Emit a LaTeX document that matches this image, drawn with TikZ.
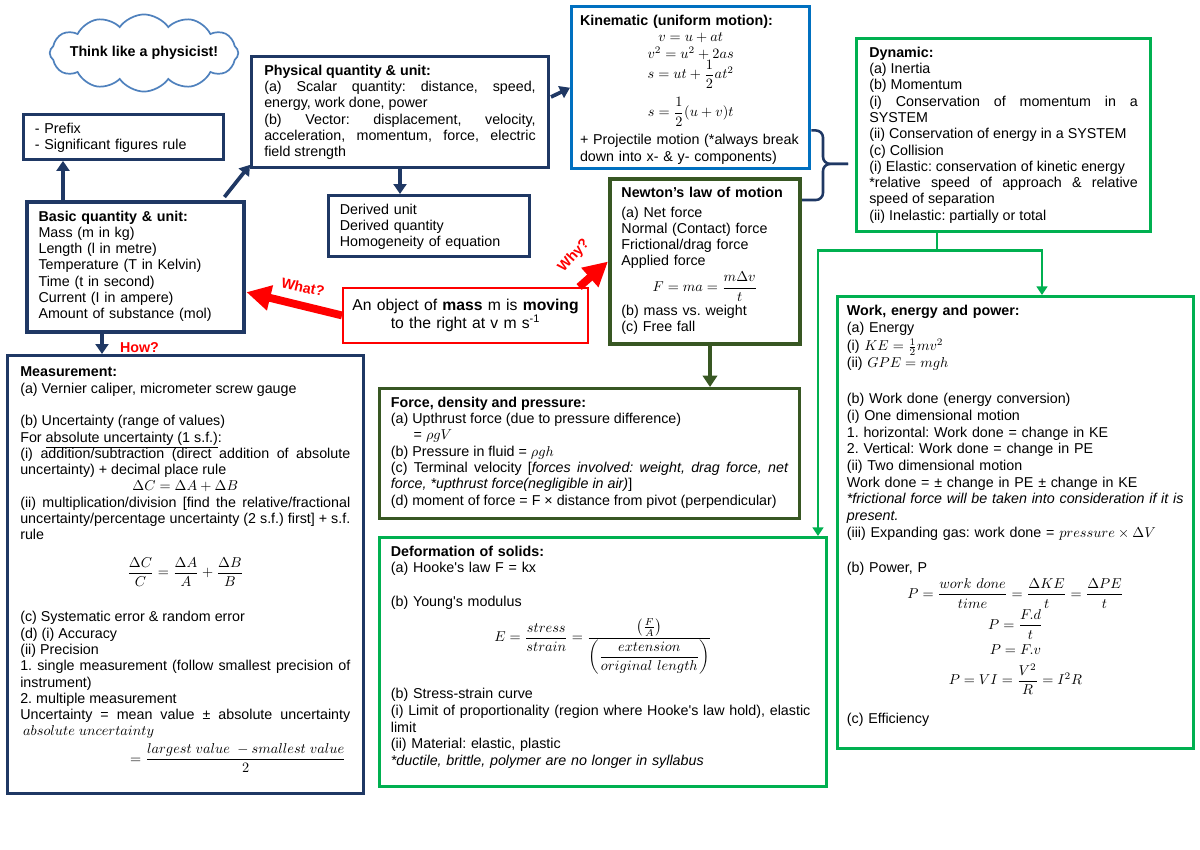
\documentclass[tikz,border=0pt]{standalone}
\usepackage{amsmath}
\usepackage{fontspec}
\setmainfont{Liberation Sans}
\usepackage{tikz}
\usetikzlibrary{arrows.meta,positioning,calc,shapes.symbols}
\definecolor{boxNavy}{HTML}{1F3864}
\definecolor{boxBlue}{HTML}{0070C0}
\definecolor{boxOlive}{HTML}{385723}
\definecolor{boxGreen}{HTML}{00B050}
\definecolor{cloudBlue}{HTML}{4F81BD}
\definecolor{alertRed}{HTML}{FF0000}
\hyphenpenalty=10000
\exhyphenpenalty=10000
\tolerance=3000
\frenchspacing
\setlength{\lineskip}{2.5pt}

\begin{document}
\begin{tikzpicture}[x=0.7pt,y=-0.7pt,>={Triangle[length=7pt,width=9pt]},
    font=\fontsize{10}{11.4}\selectfont,
    panel/.style={draw,anchor=north west,inner xsep=8pt,inner ysep=5pt,
                  text height=8.2pt,align=left},
    navyPanel/.style={panel,draw=boxNavy,line width=2pt},
    greenPanel/.style={panel,draw=boxGreen,line width=2pt},
    olivePanel/.style={panel,draw=boxOlive,line width=2pt},
    navyArrow/.style={boxNavy,line width=2.6pt,->},
    oliveArrow/.style={boxOlive,line width=2.8pt,-{Triangle[length=8pt,width=10pt]}},
    greenWire/.style={boxGreen,line width=2pt},
    greenArrow/.style={greenWire,-{Triangle[length=6pt,width=7.5pt]}},
    bigArrow/.style={alertRed,line width=5.5pt,-{Triangle[length=17pt,width=17pt]}},
    askLabel/.style={text=alertRed,font=\fontsize{10}{12}\selectfont\bfseries}]
    \useasboundingbox (0,0) rectangle (1200,849);
    \node[cloud,cloud puffs=12,cloud puff arc=110,cloud ignores aspect,draw=cloudBlue,
          line width=1.2pt,minimum width=132pt,minimum height=54pt,inner sep=0pt,
          font=\fontsize{10}{12}\selectfont\bfseries] (motto) at (144,53)
          {\makebox[0pt]{Think like a physicist!}};
    \node[navyPanel,text width=124pt,text depth=13.3pt] (prefix) at (22,113)
          {- Prefix\par - Significant figures rule};
    \node[navyPanel,line width=3pt,text width=136pt,text depth=72.8pt] (basic) at (25,200)
          {\textbf{Basic quantity \& unit:}\par Mass (m in kg)\par Length (l in metre)\par
           Temperature (T in Kelvin)\par Time (t in second)\par Current (I in ampere)\par
           Amount of substance (mol)};
    \node[navyPanel,align=justify,text width=190pt,inner xsep=9pt,text depth=59.5pt] (phys) at (250,55)
          {\textbf{Physical quantity \& unit:}\par
           (a) Scalar quantity: distance, speed, energy, work done, power\par
           (b) Vector: displacement, velocity, acceleration, momentum, force, electric
           field strength};
    \node[navyPanel,text width=125pt,text depth=24.5pt] (derived) at (327,194)
          {Derived unit\par Derived quantity\par Homogeneity of equation};
    \node[panel,draw=boxBlue,line width=2.4pt,inner xsep=5.8pt,text width=155pt,
          text depth=95.2pt] (kin) at (570,5)
          {\textbf{Kinematic (uniform motion):}\par
           \lineskiplimit=-20pt
           \centerline{$v=u+at$}
           \vspace{0.5pt}\centerline{$v^2=u^2+2as$}
           \vspace{2.6pt}\centerline{$s=ut+\dfrac{1}{2}at^2$}
           \vspace{15pt}\centerline{$s=\dfrac{1}{2}(u+v)t$}
           \vspace{4.7pt}
           + Projectile motion (*always break down into x- \& y- components)};
    \node[greenPanel,align=justify,text width=188pt,inner xsep=9pt,text depth=116.9pt] (dyn) at (855,37)
          {\textbf{Dynamic:}\par
           (a) Inertia\par
           (b) Momentum\par
           (i) Conservation of momentum in a SYSTEM\par
           (ii) Conservation of energy in a SYSTEM\par
           (c) Collision\par
           (i) Elastic: conservation of kinetic energy\par
           *relative speed of approach \& relative speed of separation\par
           (ii) Inelastic: partially or total};
    \node[olivePanel,line width=2.8pt,text width=117pt,text depth=97.3pt] (newton) at (608,177)
          {\textbf{Newton’s law of motion}\par
           \vspace{2pt}
           (a) Net force\par
           Normal (Contact) force\par
           Frictional/drag force\par
           Applied force\par
           \lineskiplimit=-20pt
           \vspace{6.5pt}\centerline{$F=ma=\dfrac{m\Delta v}{t}$}
           \vspace{5.2pt}
           (b) mass vs. weight\par
           (c) Free fall};
    \node[draw=alertRed,line width=1.3pt,anchor=north west,text width=165pt,align=center,
          minimum height=38.5pt,font=\fontsize{11}{12.6}\selectfont] (object) at (342,287)
          {An object of \textbf{mass} m is \textbf{moving}\par to the right at v m s\textsuperscript{-1}};
    \node[navyPanel,align=justify,text width=231pt,inner xsep=9pt,text height=10pt,
          text depth=286.6pt] (meas) at (6,354)
          {\textbf{Measurement:}\par
           (a) Vernier caliper, micrometer screw gauge\par
           \vspace{11.4pt}
           (b) Uncertainty (range of values)\par
           For \underline{absolute uncertainty (1 s.f.)}:\par
           (i) addition/subtraction (direct addition of absolute uncertainty) + decimal place rule\par
           \centerline{$\Delta C=\Delta A+\Delta B$}
           (ii) multiplication/division [find the relative/fractional uncertainty/percentage
           uncertainty (2 s.f.) first] + s.f. rule\par
           \lineskiplimit=-20pt
           \vspace{14.6pt}
           \centerline{$\dfrac{\Delta C}{C}=\dfrac{\Delta A}{A}+\dfrac{\Delta B}{B}$}
           \vspace{20.1pt}
           (c) Systematic error \& random error\par
           (d) (i) Accuracy\par
           (ii) Precision\par
           1. single measurement (follow smallest precision of instrument)\par
           2. multiple measurement\par
           Uncertainty = mean value ± absolute uncertainty\linebreak
           \hspace*{2pt}$absolute\ uncertainty$\par
           \vspace{7.6pt}
           \hbox to\hsize{\hfil$\displaystyle=\frac{largest\ value\ -smallest\ value}{2}$\hspace{3pt}}};
    \node[olivePanel,align=justify,text width=278pt,text depth=72.8pt] (force) at (378,387)
          {\textbf{Force, density and pressure:}\par
           (a) Upthrust force (due to pressure difference)\par
           \hspace*{16pt}= $\rho gV$\par
           (b) Pressure in fluid = $\rho gh$\par
           (c) Terminal velocity [\textit{forces involved: weight, drag force, net force,
           *upthrust force(negligible in air)}]\par
           (d) moment of force = F × distance from pivot (perpendicular)};
    \node[greenPanel,text width=297pt,text depth=156.1pt,font=\fontsize{10}{11.6}\selectfont] (deform) at (378,536)
          {\textbf{Deformation of solids:}\par
           (a) Hooke\textquotesingle s law F = kx\par
           \vspace{11.6pt}
           (b) Young\textquotesingle s modulus\par
           \lineskiplimit=-30pt
           \vspace{13.4pt}
           \centerline{$E=\dfrac{stress}{strain}=\dfrac{\left(\frac{F}{A}\right)}
             {\left(\dfrac{extension}{original\ length}\right)}$}
           \vspace{28.4pt}
           (b) Stress-strain curve\par
           (i) Limit of proportionality (region where Hooke\textquotesingle s law hold), elastic limit\par
           (ii) Material: elastic, plastic\par
           \textit{*ductile, brittle, polymer are no longer in syllabus}};
    \node[greenPanel,text width=236pt,inner xsep=6.6pt,text depth=298.2pt,
          font=\fontsize{10}{11.7}\selectfont] (work) at (836,295)
          {\textbf{Work, energy and power:}\par
           (a) Energy\par
           \vspace{1.5pt}
           (i) $KE=\frac{1}{2}mv^2$\par
           (ii) $GPE=mgh$\par
           \vspace{13.5pt}
           (b) Work done (energy conversion)\par
           (i) One dimensional motion\par
           1. horizontal: Work done = change in KE\par
           2. Vertical: Work done = change in PE\par
           (ii) Two dimensional motion\par
           Work done = ± change in PE ± change in KE\par
           \textit{*frictional force will be taken into consideration if it is present.}\par
           (iii) Expanding gas: work done = $pressure\times\Delta V$\par
           \vspace{12.8pt}
           (b) Power, P\par
           \lineskiplimit=-20pt
           \vspace{6.5pt}\centerline{$P=\dfrac{work\ done}{time}=\dfrac{\Delta KE}{t}=\dfrac{\Delta PE}{t}$}
           \vspace{10pt}\centerline{$P=\dfrac{F.d}{t}$}
           \vspace{6pt}\centerline{$P=F.v$}
           \vspace{9.5pt}\centerline{$P=VI=\dfrac{V^2}{R}=I^2R$}
           \vspace{12pt}
           (c) Efficiency};
    \coordinate (pfxFoot) at ($(basic.north west)+(38,0)$);
    \draw[navyArrow] (pfxFoot) -- (pfxFoot |- prefix.south);
    \draw[navyArrow] ($(basic.north east)+(-22,-3)$) -- ($(phys.south west)+(0,-4)$);
    \draw[navyArrow] ($(phys.north east)+(1,42)$) -- (kin.west);
    \draw[navyArrow] (phys.south) -- (phys.south |- derived.north);
    \coordinate (measTop) at ($(basic.south west)+(77,0)$);
    \draw[navyArrow] (measTop) -- (measTop |- meas.north);
    \node[askLabel,anchor=west] (howLbl) at ($(basic.south west)+(90,13)$) {How?};
    \coordinate (braceTop) at ($(kin.south east)+(0,-40)$);
    \coordinate (braceTip) at ($(dyn.west)+(-7,29)$);
    \coordinate (braceBot) at ($(newton.north east)+(0,23)$);
    \draw[boxNavy,line width=1.8pt,rounded corners=5pt]
        (braceTop) -| ($(braceTip)+(-25,0)$) -- (braceTip);
    \draw[boxNavy,line width=1.8pt,rounded corners=5pt]
        (braceTip) -- ($(braceTip)+(-25,0)$) |- (braceBot);
    \coordinate (split) at ($(dyn.south west)+(82,18)$);
    \draw[greenWire] (split |- dyn.south) -- (split);
    \draw[greenArrow] (split) -| ($(deform.north east)+(-10,0)$);
    \draw[greenArrow] (split) -| ($(work.north west)+(206,0)$);
    \coordinate (nf) at ($(newton.south)+(5,0)$);
    \draw[oliveArrow] (nf) -- (nf |- force.north);
    \draw[bigArrow] (object.west) -- ($(basic.east)+(0,25)$);
    \draw[bigArrow] ($(object.north east)+(-10,0)$) -- (newton.west);
    \node[askLabel,rotate=-13] (whatLbl) at (303,287) {What?};
    \node[askLabel,rotate=48] (whyLbl) at (574,256) {Why?};
\end{tikzpicture}
\end{document}
